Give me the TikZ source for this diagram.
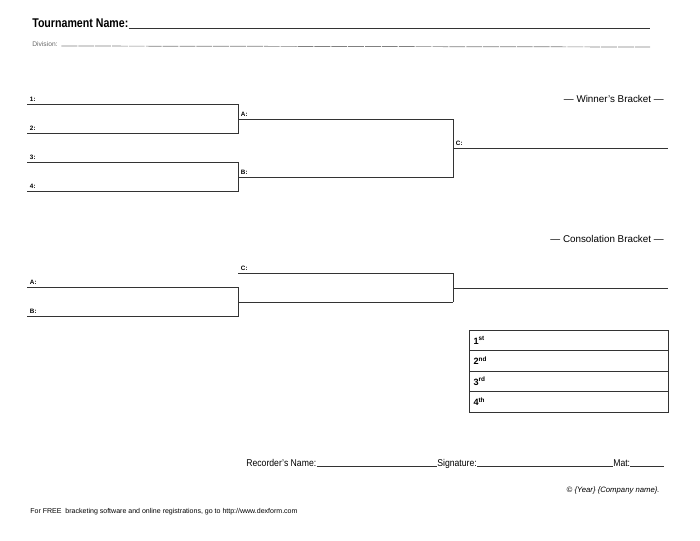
\documentclass[tikz,border=0pt]{standalone}
\usepackage{fontspec}
\setmainfont{Liberation Sans}
\usetikzlibrary{positioning}

\begin{document}
\begin{tikzpicture}[x=0.02cm, y=-0.02cm]

\tikzstyle{line} = [line width=0.5pt, draw=black!80]
\tikzstyle{slot} = [anchor=south west, inner xsep=1.5pt, inner ysep=1pt, font=\fontsize{3.6}{4}\selectfont\bfseries]
\tikzstyle{heading} = [anchor=base east, inner sep=0pt, font=\fontsize{5.6}{6}\selectfont]
\tikzstyle{formtext} = [anchor=base west, inner sep=0pt, font=\fontsize{5.6}{6}\selectfont]
\tikzstyle{rowbox} = [draw=black!80, line width=0.5pt, text width=3.8cm, inner xsep=0.09cm, minimum height=0.41cm, align=left, font=\fontsize{5.2}{6}\selectfont\bfseries]

\useasboundingbox (0,0) rectangle (700,541);

% header
\node (title) [formtext, xscale=0.84, font=\fontsize{7.2}{8}\selectfont\bfseries] at (32,28) {Tournament Name:};
\coordinate (titleend) at (650,28);
\draw [line] (title.base east) -- (titleend);
\node (division) [formtext, font=\fontsize{3.8}{4}\selectfont, text=black!60] at (32,46) {Division:};
\coordinate (divend) at (650,47);
\draw [line, draw=black!50, line width=0.4pt, dash pattern=on 9pt off 0.6pt] ([xshift=2pt]division.base east) -- (divend);

% winner's bracket
\node (winner) [heading] at (664,102) {--- Winner's Bracket ---};
\coordinate (w1) at (27,104);
\coordinate (w2) at (27,133);
\coordinate (w3) at (27,162);
\coordinate (w4) at (27,191);
\coordinate (wA) at (238,119);
\coordinate (wB) at (238,177);
\coordinate (wC) at (453,148);
\coordinate (wend) at (668,148);

\draw [line] (w1) -- (w1 -| wA) -- (w2 -| wA) -- (w2);
\draw [line] (w3) -- (w3 -| wB) -- (w4 -| wB) -- (w4);
\draw [line] (wA) -- (wA -| wC) -- (wB -| wC) -- (wB);
\draw [line] (wC) -- (wend);

\foreach \n/\t in {w1/1:, w2/2:, w3/3:, w4/4:, wA/A:, wB/B:, wC/C:}
  \node (lab-\n) [slot] at (\n) {\t};

% consolation bracket
\node (consolation) [heading] at (664,242) {--- Consolation Bracket ---};
\coordinate (cA) at (27,287);
\coordinate (cB) at (27,316);
\coordinate (cJoin) at (238,302);
\coordinate (cC) at (238,273);
\coordinate (cF) at (453,288);
\coordinate (cend) at (668,288);

\draw [line] (cA) -- (cA -| cJoin) -- (cB -| cJoin) -- (cB);
\draw [line] (cJoin) -- (cJoin -| cF);
\draw [line] (cC) -- (cC -| cF) -- (cJoin -| cF);
\draw [line] (cF) -- (cend);

\foreach \n/\t in {cA/A:, cB/B:, cC/C:}
  \node (lab-\n) [slot] at (\n) {\t};

% places
\foreach \i/\s in {1/st, 2/nd, 3/rd, 4/th}
  \node (place\i) [rowbox] at (568.5, {340.25 + 20.5*(\i-1)}) {\i\textsuperscript{\s}};

% footer
\node (recorder) [formtext, xscale=0.88] at (246,466) {Recorder's Name:};
\node (signature) [formtext, xscale=0.88] at (437,466) {Signature:};
\node (mat) [formtext, xscale=0.88] at (613,466) {Mat:};
\coordinate (matend) at (664,466);
\draw [line, line width=0.4pt] (recorder.base east) -- (signature.base west);
\draw [line, line width=0.4pt] (signature.base east) -- (mat.base west);
\draw [line, line width=0.4pt] (mat.base east) -- (matend);

\node (copyright) [heading, font=\fontsize{4.4}{5}\selectfont\itshape] at (660,492) {© \{Year\} \{Company name\}.};
\node (dexform) [formtext, font=\fontsize{4}{5}\selectfont] at (30,513) {For FREE\ \ bracketing software and online registrations, go to http://www.dexform.com};

\end{tikzpicture}
\end{document}
